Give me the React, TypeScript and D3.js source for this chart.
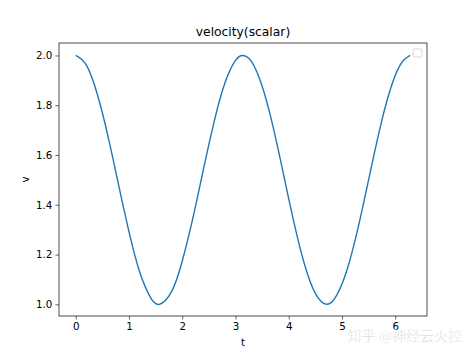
import React, { useEffect, useRef } from "react";
import * as d3 from "d3";

// samples
const tValues = [
  0, 0.2, 0.4, 0.6, 0.8, 1.0, 1.2, 1.4, 1.57, 1.8, 2.0, 2.2, 2.4, 2.6, 2.8,
  3.0, 3.14, 3.3, 3.5, 3.7, 3.9, 4.1, 4.3, 4.5, 4.71, 4.9, 5.1, 5.3, 5.5, 5.7,
  5.9, 6.1, 6.28,
];
const vValues = [
  2.0, 1.961, 1.848, 1.681, 1.485, 1.292, 1.131, 1.029, 1.0, 1.051, 1.173,
  1.346, 1.544, 1.734, 1.888, 1.98, 2.0, 1.976, 1.877, 1.719, 1.525, 1.327,
  1.158, 1.044, 1.0, 1.036, 1.142, 1.305, 1.5, 1.695, 1.858, 1.964, 2.0,
];
const xTicks = [0, 1, 2, 3, 4, 5, 6];
const yTicks = [1.0, 1.2, 1.4, 1.6, 1.8, 2.0];

function createChart(node: SVGSVGElement) {
  const svg = d3.select(node);
  svg.selectAll("*").remove();
  const margin = { top: 43, right: 47, bottom: 39, left: 59 },
    width = 474 - margin.left - margin.right,
    height = 355 - margin.top - margin.bottom;
  const font = "DejaVu Sans, sans-serif";

  const x = d3.scaleLinear().domain([-0.314, 6.597]).range([0, width]);
  const y = d3.scaleLinear().domain([0.953, 2.05]).range([height, 0]);

  const g = svg
    .append("g")
    .attr("transform", `translate(${margin.left},${margin.top})`);

  const data = tValues.map((t, i) => [t, vValues[i]] as [number, number]);
  const line = d3
    .line<[number, number]>()
    .x((d) => x(d[0]))
    .y((d) => y(d[1]))
    .curve(d3.curveNatural);

  g.append("path")
    .datum(data)
    .attr("d", line)
    .attr("fill", "none")
    .attr("stroke", "#1f77b4")
    .attr("stroke-width", 1.4);

  const xAxis = g
    .append("g")
    .attr("transform", `translate(0,${height})`)
    .call(d3.axisBottom(x).tickValues(xTicks).tickSize(3.6).tickPadding(3).tickFormat(d3.format("d")));
  const yAxis = g
    .append("g")
    .call(d3.axisLeft(y).tickValues(yTicks).tickSize(3.6).tickPadding(3).tickFormat(d3.format(".1f")));
  [xAxis, yAxis].forEach((a) => {
    a.select(".domain").remove();
    a.selectAll("line").attr("stroke", "#000").attr("stroke-width", 0.6);
    a.selectAll("text").attr("font-family", font).attr("font-size", 10.3).attr("fill", "#000");
  });

  // frame
  g.append("rect")
    .attr("width", width)
    .attr("height", height)
    .attr("fill", "none")
    .attr("stroke", "#000")
    .attr("stroke-width", 0.7);

  // empty legend
  g.append("rect")
    .attr("x", width - 14)
    .attr("y", 6)
    .attr("width", 9)
    .attr("height", 8)
    .attr("rx", 1.5)
    .attr("fill", "#fff")
    .attr("stroke", "#ccc")
    .attr("stroke-width", 0.8);

  svg
    .append("text")
    .attr("x", margin.left + width / 2)
    .attr("y", 36)
    .attr("text-anchor", "middle")
    .attr("font-family", font)
    .attr("font-size", 12.3)
    .text("velocity(scalar)");

  svg
    .append("text")
    .attr("x", margin.left + width / 2)
    .attr("y", 346)
    .attr("text-anchor", "middle")
    .attr("font-family", font)
    .attr("font-size", 10.3)
    .text("t");

  svg
    .append("text")
    .attr("transform", `translate(29,${margin.top + height / 2}) rotate(-90)`)
    .attr("text-anchor", "middle")
    .attr("font-family", font)
    .attr("font-size", 10.3)
    .text("v");

  // watermark
  svg
    .append("text")
    .attr("x", 462)
    .attr("y", 341)
    .attr("text-anchor", "end")
    .attr("font-family", "Noto Sans CJK SC, sans-serif")
    .attr("font-size", 14)
    .attr("fill", "#d8d8d8")
    .attr("stroke", "#fff")
    .attr("stroke-width", 0.4)
    .text("知乎 @神经云火控");
}

export default function App() {
  const ref = useRef<SVGSVGElement>(null);
  useEffect(() => {
    if (ref.current) createChart(ref.current);
  }, []);
  return (
    <svg
      ref={ref}
      width={474}
      height={355}
      style={{ position: "absolute", left: 0, top: 0, background: "#fff" }}
    />
  );
}
